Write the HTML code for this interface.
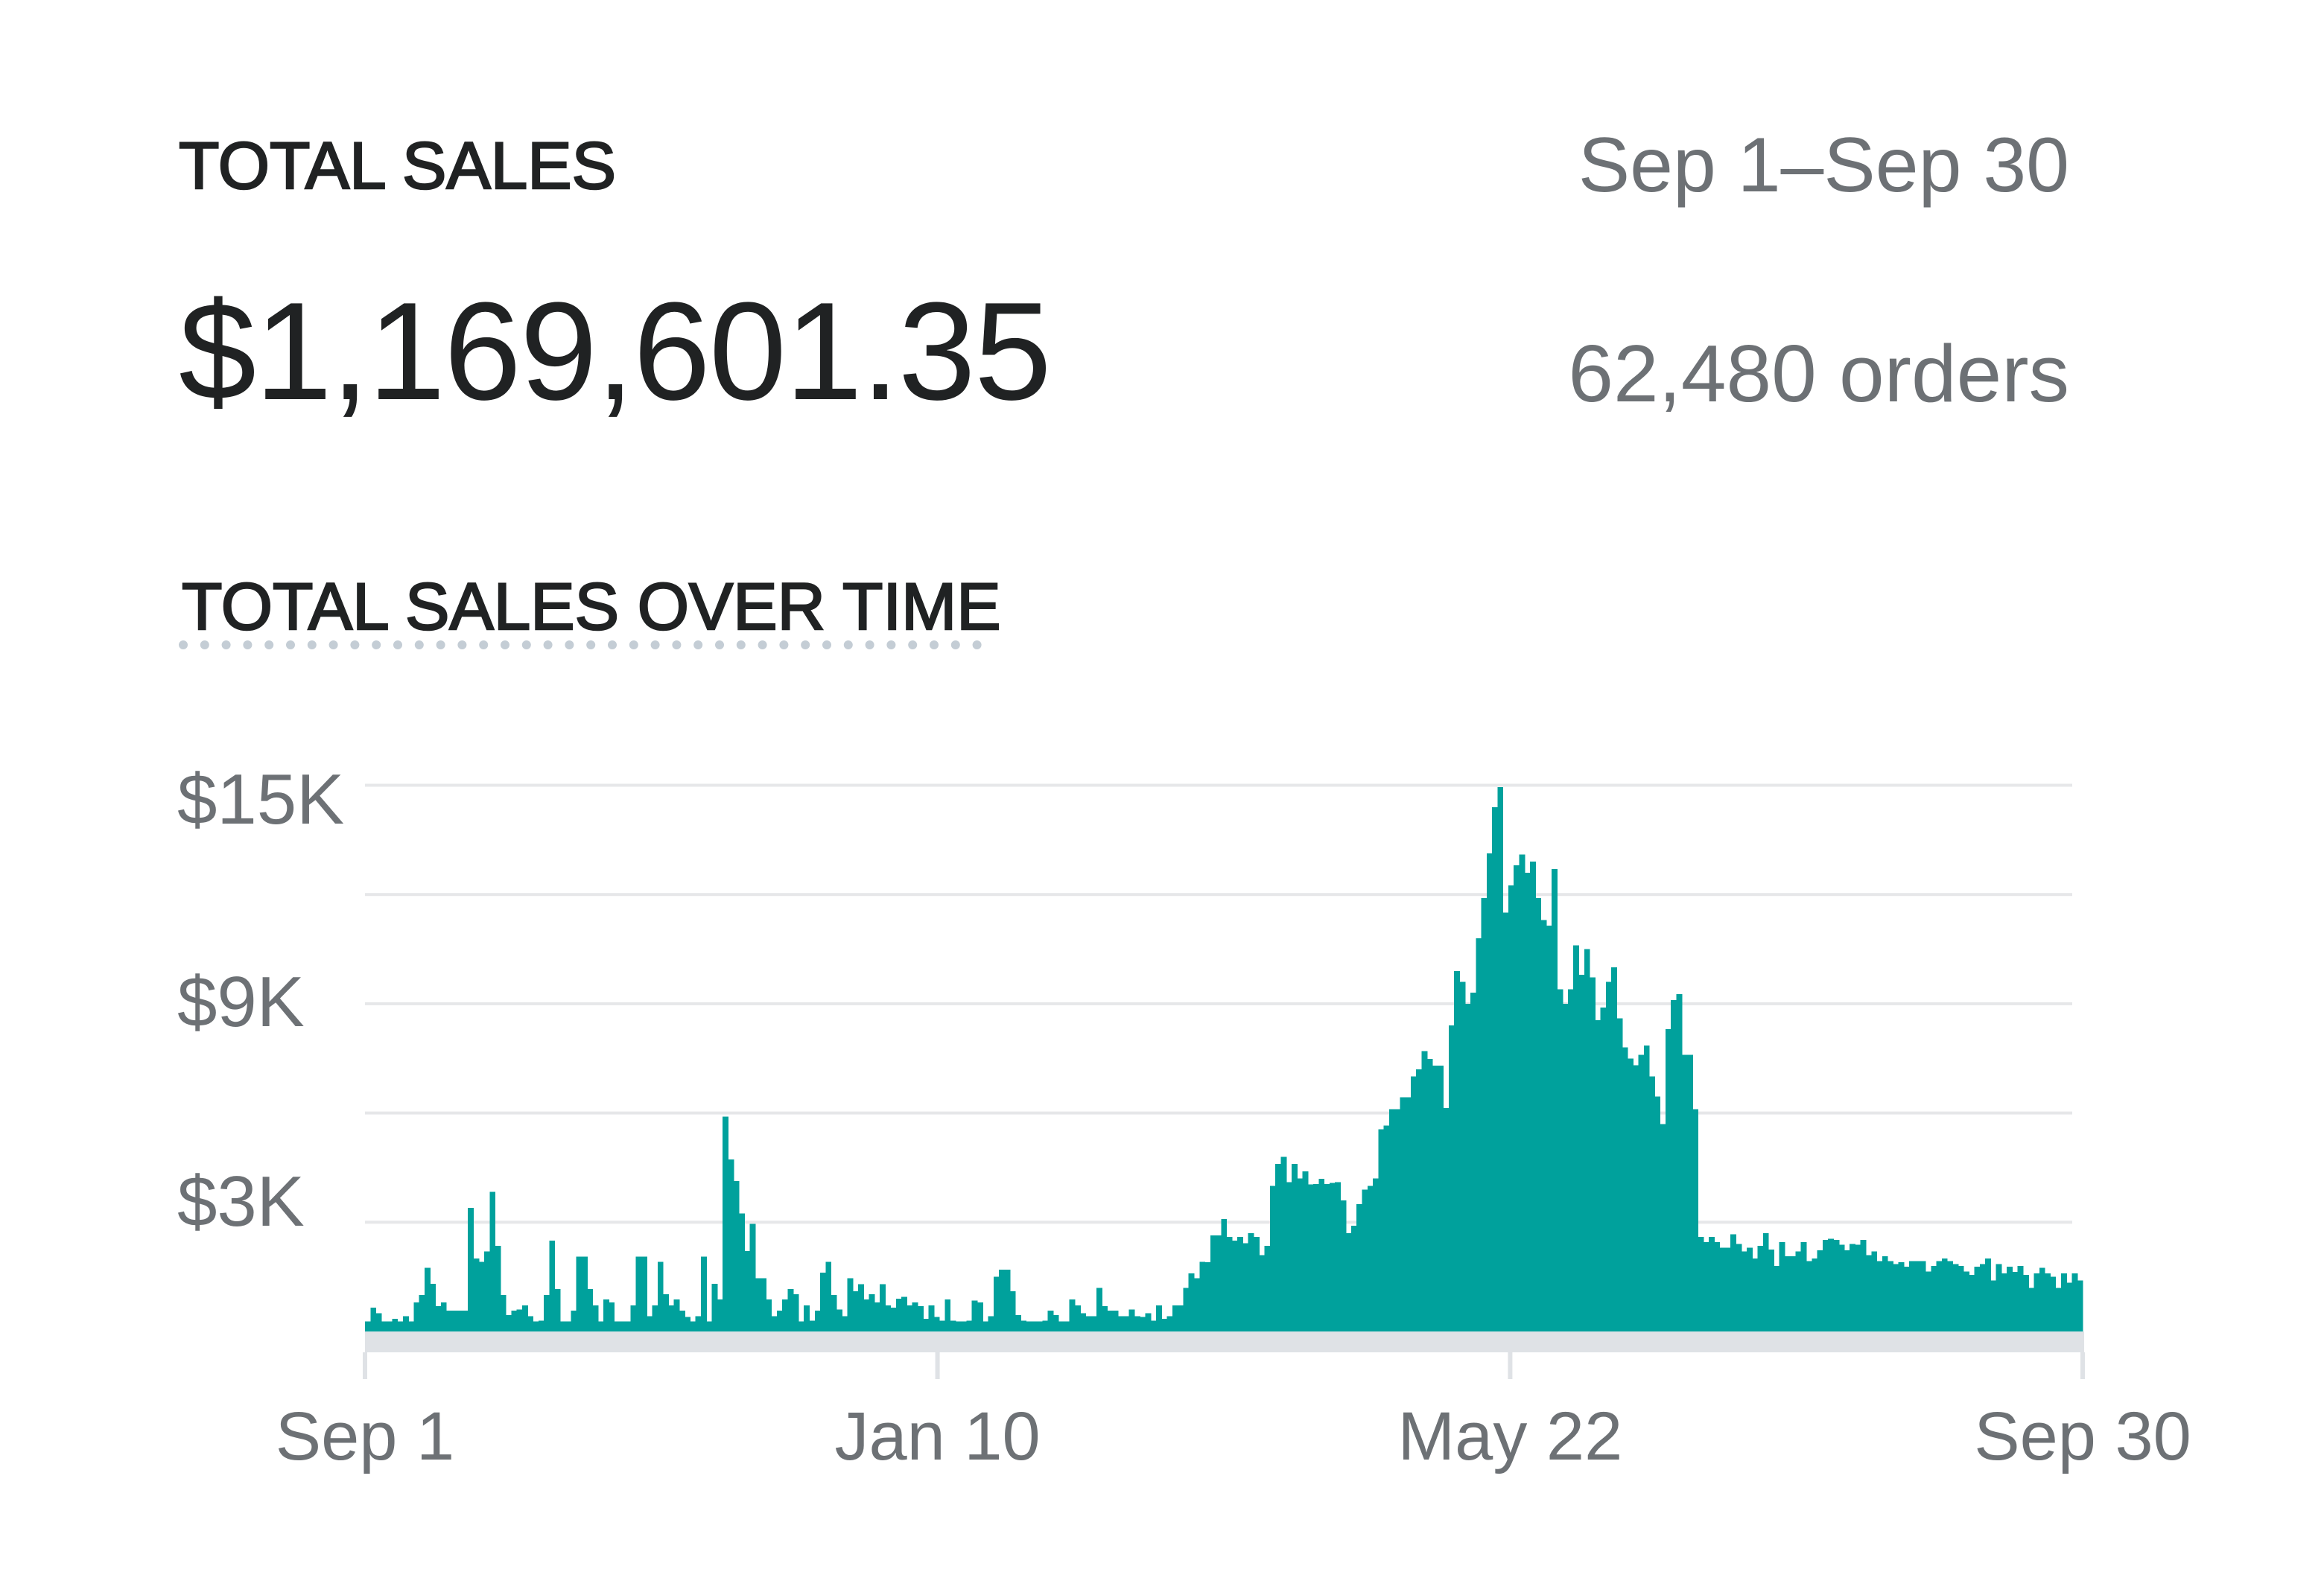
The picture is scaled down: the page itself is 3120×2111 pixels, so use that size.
<!DOCTYPE html>
<html><head><meta charset="utf-8">
<style>
html,body{margin:0;padding:0;background:#fff;}
body{width:3120px;height:2111px;position:relative;overflow:hidden;font-family:"Liberation Sans",sans-serif;}
.t{position:absolute;white-space:nowrap;line-height:1;}
.hdr{color:#202223;font-size:89px;letter-spacing:0px;-webkit-text-stroke:2.5px #202223;}
.grey{color:#6d7175;}
</style></head><body>
<div class="t hdr" style="left:240px;top:178px;">TOTAL SALES</div>
<div class="t grey" style="right:342px;top:170px;font-size:104px;">Sep 1–Sep 30</div>
<div class="t" style="left:240px;top:378px;font-size:187px;color:#202223;letter-spacing:-2px;">$1,169,601.35</div>
<div class="t grey" style="right:342px;top:448px;font-size:109px;">62,480 orders</div>
<div class="t hdr" style="left:244px;top:770px;">TOTAL SALES OVER TIME</div>
<svg style="position:absolute;left:240px;top:858px;" width="1110" height="16">
<line x1="6" y1="8" x2="1100" y2="8" stroke="#c4cdd5" stroke-width="12" stroke-linecap="round" stroke-dasharray="0 28.8"/>
</svg>
<svg id="chart" style="position:absolute;left:0;top:0;" width="3120" height="2111"></svg>
<script>
const yTicks=[3,6,9,12,15];
const yTickLabels=["$3K","","$9K","","$15K"];
const yLabelBaselines=[1646,0,1378,0,1106];
const xTickLabels=["Sep 1","Jan 10","May 22","Sep 30"];
const xTickFractions=[0,0.3333,0.6667,1];
const sales=[
.28,.65,.5,.28,.28,.35,.28,.42,.28,.8,1.0,1.75,1.31,.7,.8,.57,.57,.57,.57,3.39,2.0,1.91,2.2,3.83,2.35,1.0,.45,.57,.6,.72,.42,.28,.3,1.0,2.49,1.17,.28,.28,.57,2.06,2.06,1.17,.72,.28,.88,.8,.28,.28,.28,.72,2.06,2.06,.42,.72,1.91,1.02,.72,.88,.57,.4,.28,.42,2.06,.28,1.31,.88,5.9,4.72,4.13,3.24,2.21,2.95,1.46,1.46,.88,.42,.57,.88,1.17,1.02,.28,
.72,.3,.57,1.62,1.91,1.0,.6,.42,1.46,1.1,1.3,.88,1.02,.8,1.3,.72,.65,.9,.95,.72,.8,.7,.35,.72,.4,.3,.88,.3,.28,.28,.3,.85,.8,.28,.42,1.5,1.7,1.7,1.1,.45,.3,.28,.28,.28,.3,.57,.45,.28,.28,.88,.72,.5,.42,.42,1.2,.7,.57,.57,.42,.42,.6,.42,.4,.5,.3,.72,.35,.42,.72,.72,1.2,1.6,1.46,1.91,1.9,2.64,2.64,3.09,2.6,
2.5,2.6,2.42,2.7,2.6,2.1,2.35,4.0,4.6,4.8,4.1,4.6,4.2,4.4,4.04,4.05,4.19,4.05,4.08,4.1,3.6,2.7,2.9,3.5,3.9,4.0,4.2,5.55,5.65,6.1,6.1,6.43,6.43,7.0,7.2,7.7,7.48,7.3,7.3,6.14,8.4,9.9,9.6,9.0,9.3,10.8,11.9,13.13,14.4,14.95,11.5,12.25,12.8,13.1,12.6,12.9,11.9,11.3,11.15,12.7,9.4,9.0,9.4,10.6,9.8,10.5,9.72,8.55,8.9,9.6,10.0,8.6,7.8,7.5,7.31,7.6,7.85,7.0,6.45,5.7,8.3,
9.1,9.26,7.6,7.6,6.1,2.6,2.45,2.6,2.45,2.3,2.3,2.67,2.4,2.2,2.3,2.0,2.35,2.7,2.25,1.8,2.45,2.07,2.07,2.2,2.45,1.93,2.0,2.23,2.52,2.55,2.52,2.38,2.23,2.4,2.38,2.52,2.1,2.2,1.93,2.07,1.93,1.85,1.9,1.78,1.93,1.93,1.93,1.65,1.8,1.93,2.0,1.93,1.85,1.8,1.65,1.55,1.78,1.85,2.0,1.4,1.85,1.6,1.78,1.64,1.8,1.55,1.2,1.6,1.75,1.6,1.5,1.2,1.6,1.34,1.6,1.4
];
const NS="http://www.w3.org/2000/svg";
const svg=document.getElementById('chart');
const X0=490,X1=2796,GRID_END=2782,BASE=1788,PXK=48.9;
function yScale(v){return BASE-v*PXK;}
function xScale(i){return X0+(X1-X0)*i/sales.length;}
function xFrac(f){return X0+(X1-X0)*f;}
function mk(tag,attrs){const e=document.createElementNS(NS,tag);for(const k in attrs)e.setAttribute(k,attrs[k]);svg.appendChild(e);return e;}
yTicks.forEach((v,i)=>{
  const g=mk('rect',{x:X0,y:yScale(v)-2,width:GRID_END-X0,height:4,fill:'#e6e7e9'});
  
  
  if(yTickLabels[i]){
    const t=mk('text',{x:238,y:yLabelBaselines[i],'font-size':96,fill:'#6d7175','font-family':'Liberation Sans, sans-serif'});
    t.textContent=yTickLabels[i];
    
    
  }
});
const bw=(X1-X0)/sales.length;
sales.forEach((v,i)=>{
  const b=mk('rect',{x:xScale(i),y:yScale(v),width:bw+0.6,height:v*PXK,fill:'#00a19c','shape-rendering':'crispEdges'});
  
  
});
const band=mk('rect',{x:X0,y:BASE,width:X1-X0+2,height:28,fill:'#dfe2e6'});


xTickLabels.forEach((l,i)=>{
  const x=xFrac(xTickFractions[i]);
  const tk=mk('rect',{x:x-3,y:BASE+28,width:6,height:36,fill:'#dfe2e6'});
  
  
  const t=mk('text',{x:x,y:1960,'font-size':92,fill:'#6d7175','text-anchor':'middle','font-family':'Liberation Sans, sans-serif'});
  t.textContent=l;
  
  
});
</script>
</body></html>
